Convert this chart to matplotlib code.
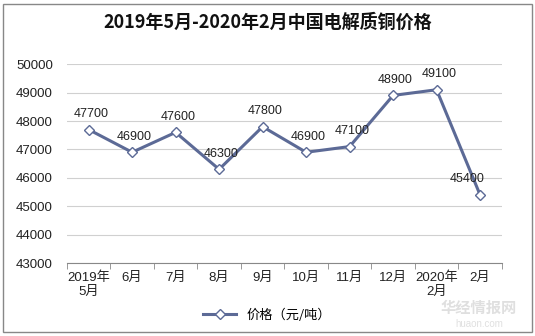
import matplotlib
matplotlib.use("Agg")
import matplotlib.pyplot as plt
from matplotlib.patches import Rectangle

plt.rcParams['font.family'] = ['Liberation Sans', 'Noto Sans CJK SC', 'DejaVu Sans']

categories = ["2019年\n5月", "6月", "7月", "8月", "9月", "10月", "11月", "12月", "2020年\n2月", "2月"]
prices = [47700, 46900, 47600, 46300, 47800, 46900, 47100, 48900, 49100, 45400]
yticks = [43000, 44000, 45000, 46000, 47000, 48000, 49000, 50000]
title = "2019年5月-2020年2月中国电解质铜价格"
legend_label = "价格（元/吨）"

color = "#5C6A96"

fig = plt.figure(figsize=(5.35, 3.36), dpi=100)
ax = fig.add_axes([0.125, 0.217, 0.813, 0.592])

x = list(range(len(categories)))
ax.plot(x, prices, color=color, lw=2.2, marker='D', ms=5.5, mfc='white', mec=color, mew=1.0,
        label=legend_label, zorder=3)

for i, (xi, v) in enumerate(zip(x, prices)):
    dx = -0.3 if i == len(x) - 1 else 0.05
    ax.annotate(f"{v}", (xi + dx, v), xytext=(0, 7), textcoords='offset points',
                ha='center', va='bottom', fontsize=9, color='#222222', family=['Liberation Sans'])

ax.set_xlim(-0.5, len(x) - 0.5)
ax.set_ylim(43000, 50000)
ax.set_yticks(yticks)
ax.set_yticklabels([str(t) for t in yticks], fontsize=9.5, color='#222222')
ax.set_xticks(x)
ax.set_xticklabels(categories, fontsize=9.5, color='#222222', family=['Liberation Sans', 'Noto Sans CJK SC'])
ax.set_xticks([i - 0.5 for i in range(len(x) + 1)], minor=True)
ax.tick_params(axis='x', which='major', length=0, pad=6)
ax.tick_params(axis='x', which='minor', length=4, color='#888888')
ax.tick_params(axis='y', length=0, pad=10)
ax.grid(axis='y', color='#D0D0D0', lw=0.8)
ax.set_axisbelow(True)
for s in ['top', 'right', 'left']:
    ax.spines[s].set_visible(False)
ax.spines['bottom'].set_color('#888888')

fig.text(0.5, 0.935, title, ha='center', va='center', fontsize=13, fontweight='bold',
         family=['Noto Sans CJK SC'], color='#111111')

leg = fig.legend(loc='center', bbox_to_anchor=(0.5, 0.062), frameon=False,
                 prop={'family': ['Noto Sans CJK SC'], 'size': 9.5}, handlelength=2.5)

fig.text(0.895, 0.085, "华经情报网", ha='center', va='center', fontsize=11, color='#D8D8D8',
         family=['Noto Sans CJK SC'], fontweight='bold', alpha=0.8)
fig.text(0.895, 0.035, "huaon.com", ha='center', va='center', fontsize=7, color='#D8D8D8', alpha=0.8)

fig.add_artist(Rectangle((0.006, 0.012), 0.988, 0.976, transform=fig.transFigure,
                         fill=False, edgecolor='#888888', lw=1))

fig.savefig("out.png", dpi=100)
